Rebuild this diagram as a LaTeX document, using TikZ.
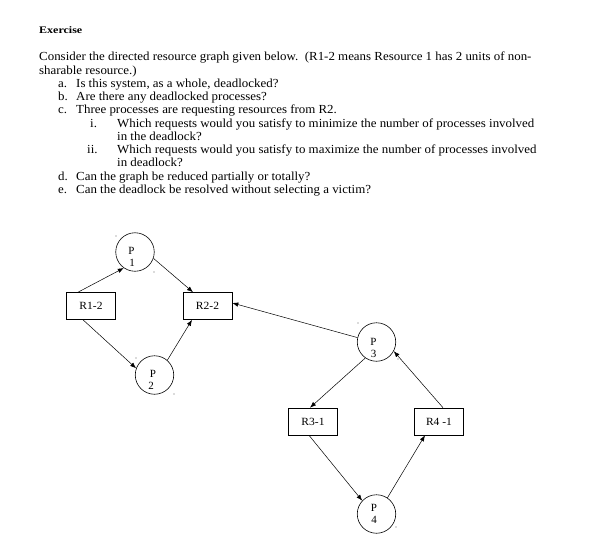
\documentclass[tikz,border=0pt]{standalone}
\usepackage{fontspec}
\setmainfont{Liberation Serif}
\newfontfamily\bodyfont[FakeStretch=1.05]{Liberation Serif}
\newfontfamily\headfont[FakeStretch=1.2]{Liberation Serif}
\usetikzlibrary{arrows.meta}
\begin{document}
\begin{tikzpicture}[x=1pt,y=-1pt,
  txt/.style={anchor=base west,inner sep=0pt,font=\bodyfont\fontsize{12.3}{13}\selectfont},
  res/.style={draw,line width=0.6pt,minimum width=49pt,minimum height=27pt,inner sep=0pt,font=\bodyfont\fontsize{11}{12}\selectfont},
  proc/.style={draw,circle,line width=0.6pt,minimum size=38.5pt,inner sep=0pt},
  lbl/.style={inner sep=0pt,font=\fontsize{11}{12}\selectfont},
  arr/.style={-{Latex[length=6pt,width=4.5pt]},line width=0.5pt},
  tick/.style={fill=black!60,circle,inner sep=0pt,minimum size=1.2pt}]
\useasboundingbox[fill=white] (0,0) rectangle (590,536);
% text
\node[txt,font={\headfont\fontsize{10}{12}\selectfont\bfseries}] (t0) at (39,33) {Exercise};
\node[txt] (t1) at (39,60.5) {Consider the directed resource graph given below.\ \ (R1-2 means Resource 1 has 2 units of non-};
\node[txt] (t2) at (39,74) {sharable resource.)};
\node[txt] (la) at (58,87) {a.};
\node[txt] (ta) at (76,87) {Is this system, as a whole, deadlocked?};
\node[txt] (lb) at (58,100.5) {b.};
\node[txt] (tb) at (76,100.5) {Are there any deadlocked processes?};
\node[txt] (lc) at (58,113.5) {c.};
\node[txt] (tc) at (76,113.5) {Three processes are requesting resources from R2.};
\node[txt] (li) at (90,127) {i.};
\node[txt] (ti) at (117,127) {Which requests would you satisfy to minimize the number of processes involved};
\node[txt] (ti2) at (117,140) {in the deadlock?};
\node[txt] (lii) at (87,153.5) {ii.};
\node[txt] (tii) at (117,153.5) {Which requests would you satisfy to maximize the number of processes involved};
\node[txt] (tii2) at (117,166.5) {in deadlock?};
\node[txt] (ld) at (58,180) {d.};
\node[txt] (td) at (76,180) {Can the graph be reduced partially or totally?};
\node[txt] (le) at (58,193.5) {e.};
\node[txt] (te) at (76,193.5) {Can the deadlock be resolved without selecting a victim?};
% resources
\node[res] (r1) at (91,306) {R1-2};
\node[res] (r2) at (207.5,306) {R2-2};
\node[res] (r3) at (313,421.5) {R3-1};
\node[res] (r4) at (439,421.5) {R4 -1};
% processes
\node[proc] (p1) at (135,252) {};
\node[proc] (p2) at (154.5,375) {};
\node[proc] (p3) at (376.5,342) {};
\node[proc] (p4) at (376.5,514) {};
\node[lbl] (p1a) at (131.5,251) {P};
\node[lbl] (p1b) at (132,263) {1};
\node[lbl] (p2a) at (153,374) {P};
\node[lbl] (p2b) at (151,386) {2};
\node[lbl] (p3a) at (373.5,342) {P};
\node[lbl] (p3b) at (373.5,353.5) {3};
\node[lbl] (p4a) at (374,508) {P};
\node[lbl] (p4b) at (374,520) {4};
% corner ticks
\node[tick] (d1) at (116,236) {};
\node[tick] (d2) at (154,272) {};
\node[tick] (d3) at (136,358) {};
\node[tick] (d4) at (174,394) {};
\node[tick] (d5) at (358,323) {};
\node[tick] (d6) at (398,359) {};
\node[tick] (d7) at (396,527) {};
% edges
\draw[arr] ([xshift=-13pt]r1.north) -- (p1.235);
\draw[arr] (p1.341) -- ([xshift=-14.5pt]r2.north);
\draw[arr] ([xshift=-8pt]r1.south) -- (p2.160);
\draw[arr] (p2.49) -- ([xshift=-15.5pt]r2.south);
\draw[arr] (p3.167) -- ([yshift=3pt]r2.east);
\draw[arr] (p3.235) -- ([xshift=-3pt]r3.north);
\draw[arr] ([xshift=4pt]r4.north) -- (p3.332);
\draw[arr] ([xshift=-4pt]r3.south) -- (p4.137);
\draw[arr] (p4.56) -- ([xshift=-14pt]r4.south);
\end{tikzpicture}
\end{document}
